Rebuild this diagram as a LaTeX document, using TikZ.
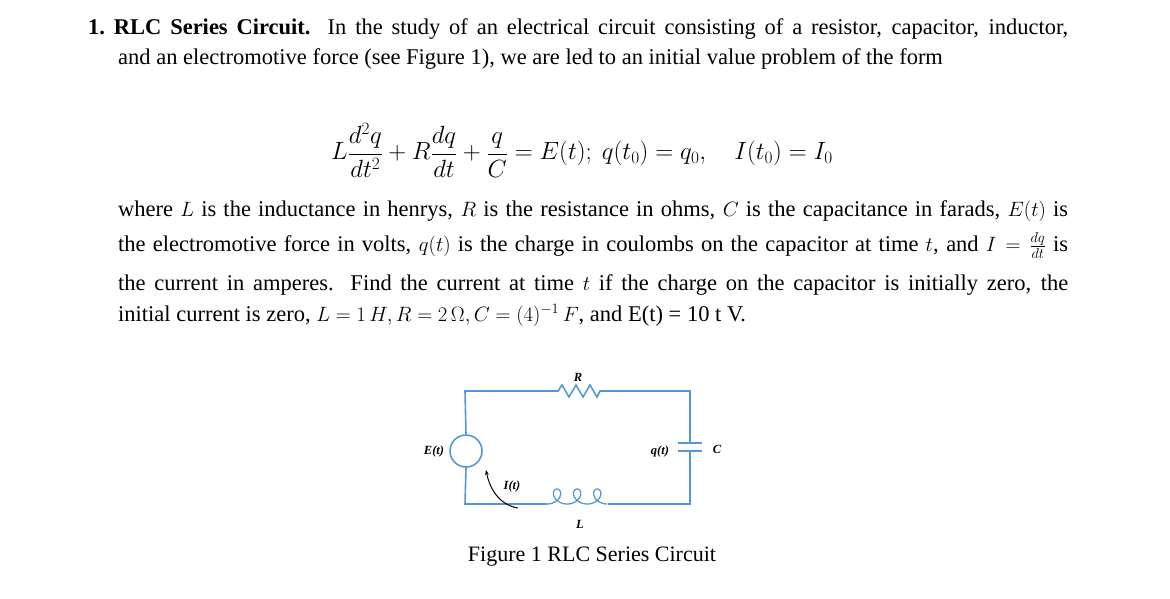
\documentclass[tikz,border=0pt]{standalone}
\usepackage{fontspec}
\setmainfont{Liberation Serif}
\usetikzlibrary{arrows.meta}
\begin{document}
\begin{tikzpicture}[x=1pt,y=-1pt,
  wire/.style={draw=cyan!60!blue!70, line width=1.6pt},
  small/.style={font=\fontsize{12.5}{13}\selectfont\itshape\bfseries},
  line/.style={font={\fontsize{22.5}{26}\selectfont\parfillskip 0pt\relax}, text width=950pt, align=justify, anchor=base west, inner sep=0pt},
  lastline/.style={font=\fontsize{22.5}{26}\selectfont, anchor=base west, inner sep=0pt}]
\useasboundingbox (0,0) rectangle (1170,598);
\node[line, text width=980pt] (l1) at (88,34) {\textbf{1.\ RLC Series Circuit.} In the study of an electrical circuit consisting of a resistor, capacitor, inductor,};
\node[lastline] (l2) at (118,64) {and an electromotive force (see Figure 1), we are led to an initial value problem of the form};
\node[font=\fontsize{24}{28}\selectfont, anchor=center] (eq) at (582,150) {$\displaystyle L\frac{d^2q}{dt^2}+R\frac{dq}{dt}+\frac{q}{C}=E(t);\ q(t_0)=q_0,\quad I(t_0)=I_0$};
\node[line] (l3) at (118,216) {where $L$ is the inductance in henrys, $R$ is the resistance in ohms, $C$ is the capacitance in farads, $E(t)$ is};
\node[line] (l4) at (118,251) {the electromotive force in volts, $q(t)$ is the charge in coulombs on the capacitor at time $t$, and $I=\frac{dq}{dt}$ is};
\node[line] (l5) at (118,290) {the current in amperes. Find the current at time $t$ if the charge on the capacitor is initially zero, the};
\node[lastline] (l6) at (118,321) {initial current is zero, $L=1\,H, R=2\,\Omega, C=(4)^{-1}\,F$, and E(t) = 10 t V.};
% circuit
\coordinate (tl) at (465,391); \coordinate (tr) at (690,391);
\coordinate (bl) at (465,504); \coordinate (br) at (690,504);
\node[circle, wire, minimum size=32pt, inner sep=0pt] (src) at (466,451) {};
\draw[wire] (src.north) -- (tl) -- (558,391)
  -- (562,385) -- (569,397) -- (576,385) -- (583,397) -- (590,385) -- (597,397) -- (600,391) -- (tr) -- (690,443);
\draw[wire] (678,443) -- (702,443);
\draw[wire] (678,451) -- (702,451);
\draw[wire] (690,451) -- (br) -- (608,504);
\draw[wire] (547,504) -- (bl) -- (src.south);
\draw[wire, line width=1.3pt] plot[domain=0:18.85, samples=200, smooth] ({547+3.2*\x+8*sin(\x r)}, {504-7.5*(1-cos(\x r))});
\draw[line width=1pt, -{Stealth[length=5pt]}] (518,508) .. controls (500,505) and (490,490) .. (486,470);
\node[small] (R) at (578,377) {R};
\node[small] (E) at (434,451) {E(t)};
\node[small] (I) at (512,486) {I(t)};
\node[small] (q) at (660,451) {q(t)};
\node[small] (C) at (717,449) {C};
\node[small] (L) at (580,524) {L};
\node[font=\fontsize{22}{24}\selectfont] (cap) at (592,557) {Figure 1 RLC Series Circuit};
\end{tikzpicture}
\end{document}
